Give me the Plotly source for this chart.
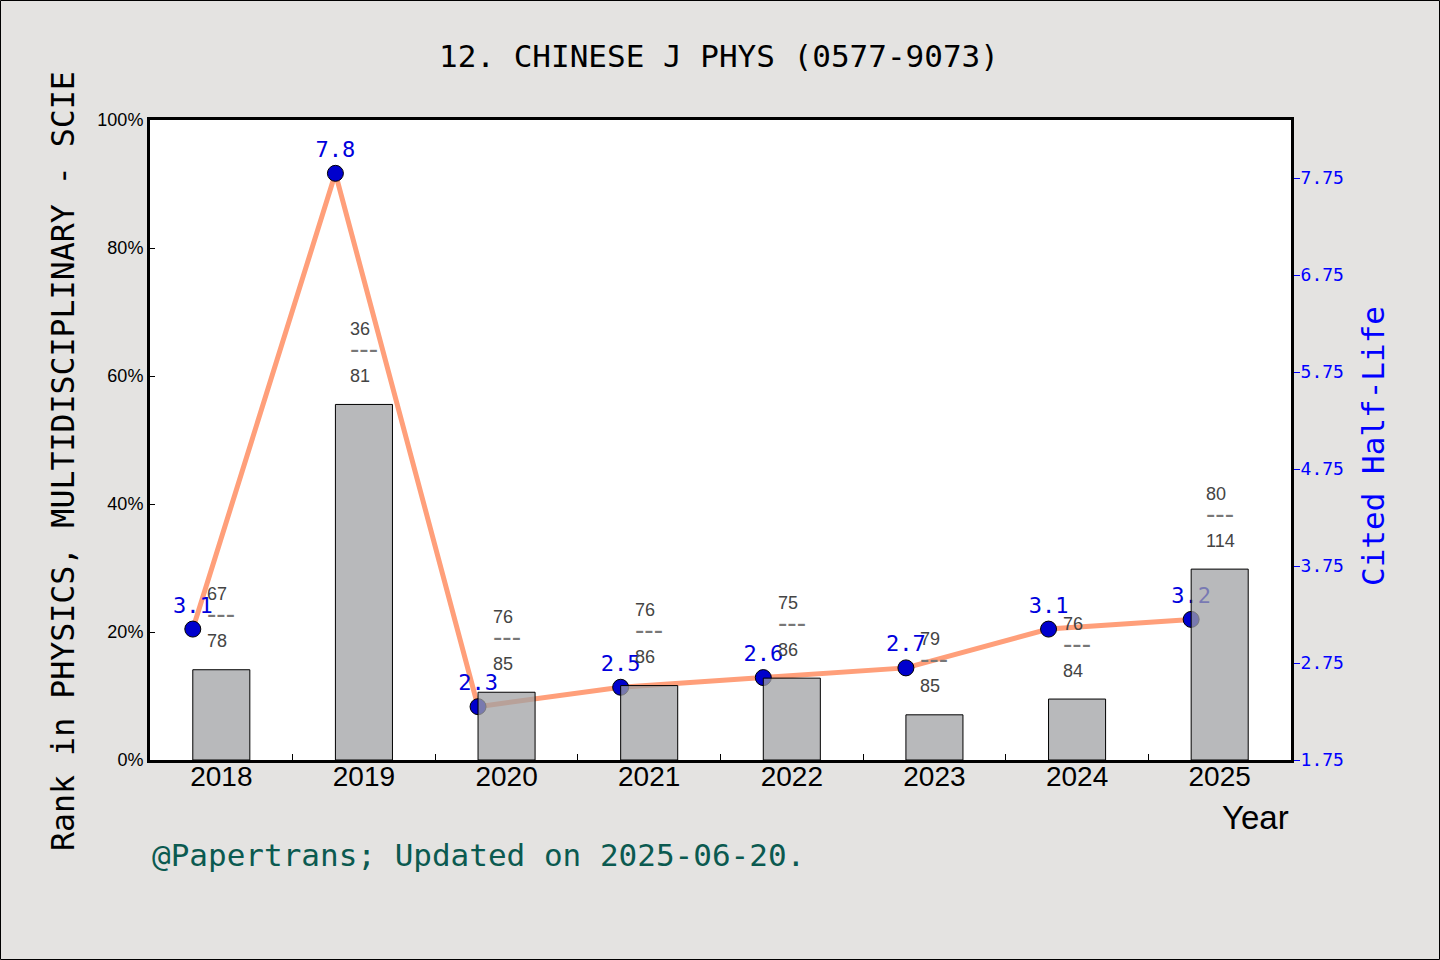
import plotly.graph_objects as go

years = [2018, 2019, 2020, 2021, 2022, 2023, 2024, 2025]
rank = [67, 36, 76, 76, 75, 79, 76, 80]
total = [78, 81, 85, 86, 86, 85, 84, 114]
half_life = [3.1, 7.8, 2.3, 2.5, 2.6, 2.7, 3.1, 3.2]
hl_ticks = [1.75, 2.75, 3.75, 4.75, 5.75, 6.75, 7.75]

W, H = 1440, 960
L, R, T, B = 150, 149, 120, 200
PW, PH = W - L - R, H - T - B


def px(x):
    return (x - L) / PW


def py(y):
    return (H - B - y) / PH


pct = [1 - r / t for r, t in zip(rank, total)]
x_line = [y - 0.2 for y in years]

MONO = "DejaVu Sans Mono"
SANS = "Liberation Sans"

fig = go.Figure()

fig.add_trace(go.Scatter(
    x=x_line, y=half_life, yaxis="y",
    mode="lines+markers+text",
    line=dict(color="#ff9f7a", width=5),
    marker=dict(color="#0000cd", size=16, line=dict(color="black", width=1)),
    text=[f"{v:.1f}" for v in half_life],
    textposition="top center",
    textfont=dict(family=MONO, size=22, color="#0000dd"),
    showlegend=False, cliponaxis=False,
))

fig.add_trace(go.Bar(
    x=years, y=pct, yaxis="y2", width=0.4,
    marker=dict(color="rgba(160,161,164,0.75)", line=dict(color="black", width=1)),
    showlegend=False,
))

annotations = []
for yr, p, r, t in zip(years, pct, rank, total):
    annotations.append(dict(
        x=yr, y=p, xref="x", yref="y2",
        text=f"{r}<br><span style='font-size:28px;color:#777'>---</span><br>{t}",
        showarrow=False, xanchor="left", yanchor="middle", align="left",
        xshift=-16, yshift=52,
        font=dict(family=SANS, size=18, color="#444444"),
    ))

annotations += [
    dict(x=px(719), y=py(56), xref="paper", yref="paper",
         text="12. CHINESE J PHYS (0577-9073)", showarrow=False,
         xanchor="center", yanchor="middle",
         font=dict(family=MONO, size=31, color="black")),
    dict(x=px(150), y=py(855), xref="paper", yref="paper",
         text="@Papertrans; Updated on 2025-06-20.", showarrow=False,
         xanchor="left", yanchor="middle",
         font=dict(family=MONO, size=31, color="#0b5a50")),
    dict(x=px(1291), y=py(817), xref="paper", yref="paper",
         text="Year", showarrow=False, xanchor="right", yanchor="middle",
         font=dict(family=SANS, size=33, color="black")),
    dict(x=px(63), y=py(461), xref="paper", yref="paper",
         text="Rank in PHYSICS, MULTIDISCIPLINARY - SCIE", showarrow=False,
         textangle=-90, xanchor="center", yanchor="middle",
         font=dict(family=MONO, size=31.6, color="black")),
    dict(x=px(1373), y=py(446), xref="paper", yref="paper",
         text="Cited Half-Life", showarrow=False,
         textangle=-90, xanchor="center", yanchor="middle",
         font=dict(family=MONO, size=31, color="blue")),
]

fig.update_layout(
    width=W, height=H,
    margin=dict(l=L, r=R, t=T, b=B, autoexpand=False),
    paper_bgcolor="#e4e3e1",
    plot_bgcolor="white",
    annotations=annotations,
    xaxis=dict(
        range=[2017.5, 2025.5], tickvals=years, ticktext=[str(y) for y in years],
        ticks="", showgrid=False, zeroline=False, ticklabelstandoff=-11,
        showline=True, linecolor="black", linewidth=3, mirror=True,
        tickfont=dict(family=SANS, size=28, color="black"),
        minor=dict(tickvals=[y + 0.5 for y in years[:-1]], ticks="inside",
                   ticklen=6, tickcolor="black", tickwidth=1, showgrid=False),
    ),
    yaxis=dict(
        side="right", range=[1.75, 8.35], tickvals=hl_ticks,
        ticktext=[f"{v:.2f}" for v in hl_ticks],
        ticks="outside", ticklen=6, tickcolor="blue", tickwidth=1,
        ticklabelstandoff=-3,
        showgrid=False, zeroline=False,
        showline=True, linecolor="black", linewidth=3,
        tickfont=dict(family=MONO, size=18, color="blue"),
    ),
    yaxis2=dict(
        side="left", overlaying="y", range=[0, 1],
        tickvals=[0, 0.2, 0.4, 0.6, 0.8, 1.0], tickformat=".0%",
        ticks="inside", ticklen=5, tickcolor="black", tickwidth=1,
        showgrid=False, zeroline=False,
        showline=True, linecolor="black", linewidth=3,
        tickfont=dict(family=SANS, size=18, color="black"),
    ),
    shapes=[dict(type="rect", xref="paper", yref="paper",
                 x0=px(0.5), x1=px(W - 0.5), y0=py(H - 0.5), y1=py(0.5),
                 line=dict(color="black", width=1), fillcolor="rgba(0,0,0,0)",
                 layer="below")],
)

fig.write_html("out.html")
